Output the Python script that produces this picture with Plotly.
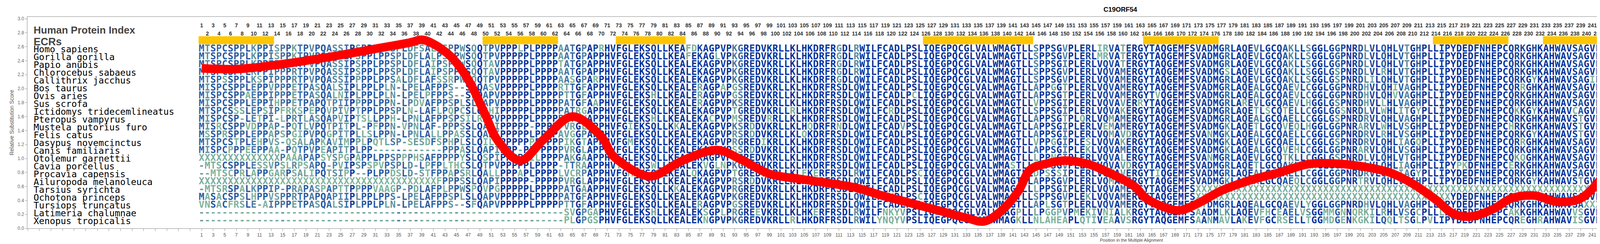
import plotly.graph_objects as go
from collections import Counter

species = ["Homo sapiens", "Gorilla gorilla", "Papio anubis", "Chlorocebus sabaeus",
           "Callithrix jacchus", "Bos taurus", "Ovis aries", "Sus scrofa",
           "Ictidomys tridecemlineatus", "Pteropus vampyrus", "Mustela putorius furo",
           "Felis catus", "Dasypus novemcinctus", "Canis familiaris", "Otolemur garnettii",
           "Cavia porcellus", "Procavia capensis", "Ailuropoda melanoleuca", "Tarsius syrichta",
           "Ochotona princeps", "Tursiops truncatus", "Latimeria chalumnae", "Xenopus tropicalis"]

# alignment blocks (positions given in names)
aln_001_039 = [
    "MTSPCSPPLKPPISPPKTPVPQASSIPSPPLPPSPLDFS",
    "MTSPCSPPLKPPISPPKTPVPQASSIPSPPLPPSPLDFL",
    "MTSPCSPPLKPPIPPPRTPVPQASSIPSPPLPPSPLDFL",
    "MTSPCSPPLKPPIPPPRTPVPQASSIPSPPLPPSPLDFL",
    "MTSPSSPPLKSPIPPPRTPVPQASSIPPPPLPPSALDFL",
    "MISPCSPPLEPPVPPPETPASQALSIPLPPLPLN-LPEL",
    "MISPCSPPAEPPIPPPETPASQALNIPLPPLPLN-LPEL",
    "MISPCSPPLEPPIHPPETPAPQTPIIPPPPLPPN-LPDV",
    "MTSPCSSSLEPSIPFRKSPEPQVPIVPTPPLPPSPLN-L",
    "MISPCSP-LETPI-LPRTLASQAPVIPTSLLPPH-LPNL",
    "MISRCSPPVDPPAP-PQTLVPQTPITPL-PFPPN-VPNL",
    "MSSPRSPPLEPPAPSPGIPVPQGPITPLLSLPPN-LPNL",
    "MTSPCSTPLEHPVS-QSALAPKAVIMPPLPQTLSP-SES",
    "MISPCPPPEEPPAA-PQTPVPEAPITPLPP---------",
    "XXXXXXXXXXXXXXPAAAPAPSYSPGPAPPLPPSPPPHS",
    "-MTSCSPPLESSVPSLRPSAPQ-PVIPSPSPVPSPLD-L",
    "--MTSCPRLAPPGARPSALIPQTSIPP--PLPPDSLD-S",
    "XXXXXXXXXXXXXXXXXXXXXXXXXXXXXXXXXXXXXXX",
    "-MTSRSPALKPPIP-PRAPASPAPTTPPPPVAAGP-PDL",
    "MASACSPSLHPPVSPPRTPAPQAPIIPLPPLPPS-LPEL",
    "VNSACFRSLE-AIPPPETPASQALSIPLPPLPLN-LPEL",
    "---------------------------------------",
    "---------------------------------------",
]
aln_040_078 = [
    "ALPSPPWSQQTPVPPPLPLPPPPAATGPAPRHVFGLEKS",
    "ALPSPPWSQQTPVPPPPPLPPPPAATGPAPPHVFGLEKS",
    "AIPSPPWSQQTAVPPPPPLPPPPTATGPAPPHVFGLEKS",
    "AIPSPPWSQQTAVPPPPPLPPPPAATGPAPPHVFGLEKS",
    "AFSSRPWSQQTPVPPPPPLPPPPAASGPARPHVFGLEKS",
    "AFPPS--SFQASVPPPPPLPPPPRTTGFAPPHVFGLEKS",
    "PFPPS--SFQAPVPPPPPLPPPPPTTGFAPPHVFGLEKS",
    "AFPPSPLSLQAPVPPPPPLPPPPPATGFAAPHVFGLEKS",
    "AFLPQPCSLQSHIPPPPPLPPPPPATRGAPPHVFGLEKS",
    "AFPPSPSILRAPVPPPPPLPPPPPATGVAPPHVFGLEKS",
    "AF-PPPSSLQAPIPPPPP-PPPPPVRGLAPPHVFGIEKS",
    "ALLPPASSLQAPIPPPPPLPPPPAVGGPAPPHVFGLEKS",
    "DFSPHPLSLQILIPPPPPPPPPPPIKGTAPPHVFGMEKS",
    "---PPPASLQAPIPPP-PLPPPPPVRGLAPPHVFGLEKS",
    "AFPPPPYSLQSPIPPPPPILPPPPAKGAAPPHVFGLEKS",
    "PFPLTHCSLQTPVPPPPPLPPPP-TTRAAPPHVYGLEKS",
    "TFPPAPSRLQALLPPPAPLPPPPLVCRPAPPHVFGMAKS",
    "XXFPPPSSLQAPIPPPPP-PPPPPVRGLAPPHVFGLEKS",
    "AFPLPPWSPQVPGPPPPPLPPPPPATGAAPPHVFGLEKS",
    "AFPPSPLSLQAPVPPPPPLPPPPPATGFAPPHVFGLEKS",
    "AFPPS--SFQAPVPPPPPLPPPPPTTGFAPPHVFGLEKS",
    "------------------------SVGPGAPHVFGLEKS",
    "------------------------PLGPGSPHVFGLEKS",
]
aln_079_117 = [
    "QLLKEAFDKAGPVPKGREDVKRLLKLHKDRFRGDLRWIL",
    "QLLKEAFEKAGLVPKGREDVKRLLKLHKDRFRGDLRWIL",
    "QLLKEALEKAGPVPKGREDVKRLLKLHKDRFRGDLRWIL",
    "QLLKEALEKAGPVPKGREDVKRLLKLHKDRFRGDLRWIL",
    "QLLKEALEKAGPVPKGREDVKRLLKLHKDRFRGDLQWIL",
    "QLLKEALERAGPAPGSREDVKRLLKLHKDRFRSDLQWIL",
    "HLLKEALERAGPVPGSREDVKRLLKLHKDRFRSDLQWIL",
    "QLLKEALERAGPVPKSREDVKRLLKLHKDRFRSDLQWIL",
    "QLLKEALEKAGPVPTGREDVKRLLRLHKDRFRSDLQWIL",
    "HLLKEALEKACPVPMSREDVRRLLKLHKDRFRSDLQWIL",
    "QLLKKALEKAGPVPKSRDDVKRLLKLHQDRFRNDLQWIL",
    "QLLKEALEKAGPVPRSRDDVKRLLKLQKDRFRSDLQWIL",
    "QLLKEALEKAGPVPRGREDIKRLLKLHKDRFRSDLQWIL",
    "QLLKEALEKAGPVPSSRDDVKRLLKLHKDRFRSDLQWIL",
    "QLLKEALEKAGPVPRGREDVKRLLKLHKDRFRSDLQWIL",
    "WLLKEALEKVGLNPKGREDVKRLLKLHKDRFRSDLQWIL",
    "QLLKEALQKAGPVPTGREDVRRLLKLFKERFRSDLRWIL",
    "QLLKEALEKAGPVPRSRDDVKRLLKLHKDRFRSDLQWIL",
    "QLLKKALEKAGPVPRGREDVKRLLKLHKDRFRSDLQWIL",
    "QLLKEALEKAGPVPKGREDVKRLLKLHKDRFRSDLQWIL",
    "QLLKEALERAGPVPGSREDVKRLLKLHKDRFRSDLQWIL",
    "HLLKEALEKSGPLPRGREEVKRLLKLHKERFRSDLRWIL",
    "QLLKEALEKNGPVPKGREDVKRLLRLHKDRFRSDLRWIL",
]
aln_118 = ["F"] * 22 + ["Y"]
aln_119_157 = [
    "CADLPSLIQEGPQCGLVALWMAGTLLSPPSGVPLERLIR",
    "CADLPSLIQEGPQCGLVALWMAGTLLSPPSGVPLERLMR",
    "CADLPSLIQEGPQCGLVALWMAGTLLSPPSGIPLERLVQ",
    "CADLPSLIQEGPQCGLVALWMAGTLLSPPSGVPLERLVQ",
    "CADLPSLIQEGPQCGLVALWMAGTLLSPPSGVPLERLVQ",
    "CADLPSLIQEGPQCGLVALWMAGTLLAPPGGTPLERLVQ",
    "CADLPCLIQEGPQCGLVALWMAGTLLAPPSGTPLERLVQ",
    "CADLPSLIQEGPQCGLVALWMAGTLLVPPSGIPLERLVQ",
    "CRDLPSLIQEGPQCGLVALWMAGTLLSPPSGIPLERLVQ",
    "CADLPSLIQEGPQCGLVALWMAGTLLAPPSGTPLQRLVQ",
    "CADVPSLIQEGPQCGLVALWMAGTLLAPPSGIPLERLVE",
    "CADLPSLIQEGPQCGLVALWMAGTLLAPPSGIPLERLVQ",
    "CADLPSLIQEGPQCGLVALWMAGTLLVPPGGIPLESLVQ",
    "CADLPSLIQEGPQCGLVALWMAGTLLAPPSGIPLEKLVQ",
    "CADLPSLIQEGPQCGLVALWMAGTLLLPPNGIPLERLVQ",
    "CADLPSLIQEGPQCGLVALWMASTLLSPPSGVPLERLVQ",
    "CADLPSCIQEGPQCGLVALWMAGTLLDPSSSIPLERLVQ",
    "CADLPSLIQEGPQCGLVALWMAGTLLAPPSGVPLERLVQ",
    "CADLPSLIQEGPQCGLVALWMAGTLLLPPSGIPLERLVQ",
    "CVDLPSCIQEGPQCGLVALWMAGTLLSPPSGVPLEKLVQ",
    "CADLPSLIQEGPQCGLVALWMAGTLLAPLSGTPLERLVQ",
    "NKYVPSLIQDGPQCGLVALWMAGPLLLPGGPVPMEKIVN",
    "NQYVPSLIQEGPQCGLVALWMAGKLLNLAHEAPLQTIVE",
]
aln_158_196 = [
    "VATERGYTAQGEMFSVADMGRLAQEVLGCQAKLLSGGLG",
    "VATERGYTAQGEMFSVADMGRLAQEVLGCQAKLLSGGLG",
    "VATERGYTAQGEMFSVADMGRLAQEVLGCQAKLLSGGLG",
    "VAMERGYTAQGEMFSVADMGSLAQEVLGCQAKLLSGGLG",
    "VAMERGYTAQGEMFSVADMGRLAQEVLGCQAKLLSGGLG",
    "VAMERGYTAQGEMFSVADMGRLAQEALGCQAEVLCGGLG",
    "VAMERGYTVQGEMFSVADMGRLAQEALGCQAEVLCGGLG",
    "VAVERRYTAQGEMFSVADMGRLAREVLGCQAEVLHGGLG",
    "VAKERGYTAQGEMFSVADMGRLAQETLSCQTELLCGGLG",
    "MAMERGYTAQGEMFSVADMGRLAQEALGCQAELLCGGLG",
    "MAMERGYTAQGEMFSVADMGKLAQETLGCQVEQLHGGLG",
    "MAVDRGYTAQGEMFSVANMGKLAQEALGCQAELLCGGLG",
    "VAKERGYTAQGEMFSVADMGKLAQEVLGCQAELLCGGLG",
    "VAMERGYTAQGEMFSVADMGKLAQEALGCQVEHLCGGLG",
    "VALERGYTAQGEMFSVANMGRLAQEVLGCQTKLLCGGLG",
    "VAVDRGYTAQGEMFSVADMGRLAQETLGCQAKLLRNGLG",
    "VAVERGYTIQGEMFSVADMGRLAQEALGCQAELLCGGLG",
    "MAMERGYTAQGEMFSVADMGKLAREALGCQAEQLCGGLG",
    "VAMERGYTAQGEMFSXXXXXXXXXXXXXXXXXXXXXXXX",
    "VAMERGYTAQGEMFSXXXXXXXXXXXXXXXXXXXXXXXX",
    "VAMERGYTAQGEMFSVTDMGRLAQEALGCQAEVLYGGLG",
    "IALKRGYTAQGEMFSAADMLKLAQEVFHCEAELVSGGMM",
    "AAVSRGYTAQGEMFSAANMAVLAKEVFGCRSELLTGGMD",
]
aln_197_235 = [
    "GPNRDLVLQHLVTGHPLLIPYDEDFNHEPCQRKGHKAHW",
    "GPNRDLVLQHLVTGHPLLIPYDEDFNHEPCQRKGHKAHW",
    "GPNRDLVLQHLVTGHPLLIPYDEDFNHEPCQRKGHKAHW",
    "SPNRDLVLRHLVTGHPLLIPYDEDFNHEPCQRKGHKAHW",
    "SPNRDLILQHLVTGHPLLIPYDEDFNHEPCQRKGYKAHW",
    "GPNRDHVLQHIVAGHPLLIPYDEDFNHEPCQRRGHKAHW",
    "GPNRDHVLQHVVAGHPLLIPYDEDFNHEPCQRKGHKAHW",
    "SPNRDHVLLHLVAGHPLLIPYDEDFNHEPCQRKGHKAHW",
    "GSNRDLVLWHLITGYPLLIPYDEDFNHEPCQKKGYKAHW",
    "SPNRDRVLQHLVAGHPLLIPYDEDFNHEPCQRKGHKAHW",
    "GPNRARVLWHLVSGHPLLIPYDEDFNHEPCHRKGHKAHW",
    "GPNRDRVLRHLVSGHPLLIPYDEDFNHEPCQRKGYKAHW",
    "SPNRDRVLQHLIAGQPLLIPYDEDFNHEPCQRRGHKAHW",
    "GPNRARVLQHLVSGHPLLIPYDEDFNHEPCQRKGHKAHW",
    "SPNRDLVLQHLVTGHPLLIPYDEDFNHEPCQKQGHKAHW",
    "GPNRDLVLQHLIAGHPLLIPYPKDFNHEPCERKGHKAHW",
    "GPNRDRVLQHLIAGYPLLIPYDEDFNHEPCQRKGHKAHW",
    "GPNRTRVLQHLVSGHPLLIPYDEDFNHEPCQRKGYKAHW",
    "XXXXXXXXXXXXXXXXXXXXXXXXXXXXXXXXXXXXXXX",
    "XXXXXXXXXXXXXXXXXXXXYDEDFNHEPCQSKGHKAHW",
    "GPNRDHVLQHLVAGHPLLIPYDEDFNHEPCQRKGHKAHW",
    "GNNQRKILRHLVSGCPLLLPYDEDFNHEPCAKKGHKAHW",
    "GENKGKILQQLTSGLPVLIPYDEDFNHEPCQREGHRAHW",
]
aln_236_274 = [
    "AVSAGVLLGVRAVPSLGYTEDPELPGLFHPVLGTPCQPP",
    "AVSAGVLLGVRAVPSLGYTEDPELPGLFHPVLGTPCQPP",
    "AVSAGVLLGVRAVPTLGYTEDPELPGLFHPVLGTPCQPP",
    "AVSAGVLLGVRAVPSLGYTEDPELPGLFHPVLGTPCQPP",
    "AVSAGILLGVPAVPSLGYTEDPELPGLFHPVLGMPFQPP",
    "AVSAGVLLGVQHVPSLGYSEDPELPGLFHPVPGTPHQPP",
    "AVSAGVLLGVQHVPSLGYSEDPELPGLFHPVPGTPQQPP",
    "AVSAGVLLGVQAVPDVGYAEDPELPGLFHPAASSPHQPP",
    "AVCAGVLLGVQSVPSPGYTEDPELPGLFHPEPGVPCRPP",
    "AVSTGVLLGVQGVPSPGYAEDPELSGLFHPMPGMLCQPP",
    "AVSTGVLLGVRAVPRLGYSEDPELPGLFHPVPTMPHQPP",
    "AVSTGVLLGTQAVPGLGYSEDPELPGLFHPVPSTARQLP",
    "AVSAGVLLGVQGVPGCGYAEDPELAGLFHPLPGMLCQLP",
    "AVSAGVLLGVQAVPSPGYAEDPELPGLFHPAPSTLHQPP",
    "AVSAGVLLGVQHIPSHGYTEDPELPGLFYPVPGTPCQPL",
    "AVSAGVLLGVQAVPHLGYAEDPELPGLFHPVPSTPCQPP",
    "AVSAGVLLGVPDVPGCGYAEDPELAGLFHPVPSAAWQPP",
    "AVSTGVLLGVQAVPSLGYSEDPELPGLYHPVPSTPRQPP",
    "XXXXXVLLGVPAVPSLGYAEDPELPGLFHPVLSKPCQSP",
    "AVSAGVLLGVSHTPGHGYTEDPELPGLFHPVSGMTCQLP",
    "AVSAXXXXXXXXXXXXXXXXXXXXXXXXXXXXXXXXXXX",
    "AVVSGVLLGLKCGSLAGYQEDPELSGLFYPPREAHWH--",
    "AVISGVLFGVRCGS---FSPDPDIPGLCYPSSDSP----",
]
aln_275_313 = [
    "SLPEEGSPGAVYLLSKQGKSWHYQLWDYDQVRESNLQLT",
    "SLPEEGSPGAVYLLSKQGKSWHYQLWDYDQVRESNLQLT",
    "SLPEEGSPGAVYLLSKQGKSWHYQLWDYDQVRDSNLQLT",
    "SLPEEGSPGAVYLLSKQGKSWHYQLWDYDQVRDSNLQLT",
    "SLPEEGSPGAVYLLSKQGKSWHYQLWDYDQIRESNLQLT",
    "SLPEEGSPGAVYLLAKQGKSWHHQLWDYDQVRDSNLQLT",
    "SLPEEGSPGAVYLLAKQGKSWHHQLWDYDQVRDSNLQLT",
    "ALPEEGSTGTIYLLSKQGKSWHYQLWDYDQVRDSNLQLT",
    "SMPEEGFPGAVFLLSKQGKSWHYQLWDYDQVRDSNLQLT",
    "SLPEEDLPGAVYLLCKQGKSWHCQLWDYDQVRDSNMQLT",
    "ALPEEGSAGAVYLLSKQGKSWHYQLWDYDQVRDSNLQLT",
    "SLPEEGSPGAVYLLSKQGKSWHYQLWDYDQVRDSNLQLT",
    "CLPEEGSPGAVYLLSKQGKSWHYQLWDYDQVRESNLQLT",
    "SLPEDGSSGAVYLLSKQGKSWHYQLWDYDQVRDSNLQLT",
    "SLPEEGSEGTVYLLSKQGKSWHYQLWDYNQVRDSNLQLT",
    "LLPEESSSGAIFLLCKQGKSWHYQLWDYDQVRDSNLQLT",
    "PLPEEGCRGAVHLLSKQGKSWHYQLWDYDQVRESNLQLT",
    "ALPEEGSPGAVYLLSKQGKSWHYQLWDYNQVRDSNLQLT",
    "PLPEEGSLGAVYLLSKQGKSWHYKLWDYNQVRDSNLQLT",
    "VLPEV-APGATYLLCKQGKSWNYQLWDYDQVQESNLQLT",
    "XXXXXXXXXXXXXXXXXXXXXXXXXXXXXXXXXXXXXXX",
    "-CPPEDGVVEIYLLAKQGKSLKYQLWEYQRVHESNMQLT",
    "-SLEDLNIQEIYLVAKQGKSLRYQLWEYDCISRSNGQLI",
]
aln_314_351 = [
    "DFSPSRATDGRVYVVPVGGVRAGLCGQALLLTPQDCSH",
    "DFSPSRATDGRVYVVPVGGVRAGLCGQALLLTPQDCSH",
    "DFSPSRATDGRVYVVPVGGVRAGLCGQALLLTPQDCSH",
    "DFSPSRATDGRVYVVPVGGVRAGLCGQALLLTPQDYSH",
    "DFSPSRATDGRMYIVPAGGVRAGLCGQALLLTPQGCSL",
    "DFSPSRAADGREYVVPAGGVRAGLCGQALLLRPQDSSH",
    "DFSPSRAADGREYVVPAGGVRAGLCGQALLLRPQDSSH",
    "DFSPLRATDGREYVVPAGGVRAGLCGQALLLRPQDSSH",
    "DFSPSRATDGLVYVVPTGGVRAGLCGQALLLRPRESSN",
    "DFSPSRAADGREYVVPAGGVRAGLCGQALLLRPQDPSH",
    "DFSPSRAADGRAYVVPAGGVRAGLCGQALLLRPRDSGH",
    "DFSPSRAADGRAYVVPAGGVRAGLCGQALLLSPKDSSC",
    "DFSPSRAADGRAYVVPAGGVQAGLCGQALLLRPQDSSH",
    "DFSPSRATDGRAYVVPAGGVQAGLCGQALLLTPQDFSR",
    "DFSPSRATNGQTYVVPAGGVRAGLCGQALLLRPWDSNH",
    "DFSPSRAADGRVYVVPPGGVQAGLCGQALLLRPQE---",
    "DFSPSRAADGRSYVVPAGGLRAGLCGQALLLSLPLASH",
    "DFSPSRATDGRAYVVPAGGVRAGLCGQALLLXXXXXXX",
    "DFSPLRATDGRAYVVPAGGVRAGLCGQALLLRPWDSSH",
    "DFSPLRAADGQTYVVPTGGVQAGLCGQALLLRPGDSSP",
    "XXXXXXXXXXXXXXXXXXXXXXXXXXXXXXXXXXCSPE",
    "DLDPSRAADGTVYVLPQGGVKSGLCGHTVLLKPGTELT",
    "HLDPKRSNDGNVYIVPSGGVKAGLCGQIVLFQPKDV--",
]

ecr_start = [1, 50, 73, 126, 164, 214, 233, 256, 287, 308, 331]
ecr_end = [13, 62, 84, 144, 176, 226, 244, 265, 300, 319, 345]

curve_pos = [1, 7, 13, 19, 25, 31, 37, 39, 41, 44, 47, 50, 52, 56, 60, 65, 70, 72, 77, 79,
             84, 90, 94, 99, 104, 109, 114, 118, 123, 128, 133, 136, 139, 142, 144, 147,
             150, 154, 157, 162, 164, 168, 170, 173, 177, 182, 187, 192, 196, 201, 206,
             210, 214, 217, 220, 224, 227, 231, 235, 239, 243, 245, 248, 250, 253, 255,
             258, 259, 261, 264, 266, 269, 271, 273, 274, 279, 284, 288, 292, 296, 299,
             303, 306, 309, 313, 317, 321, 323, 327, 331, 335, 337, 340, 342, 345, 347,
             350, 351]
curve_score = [2.29, 2.28, 2.33, 2.40, 2.48, 2.57, 2.66, 2.70, 2.64, 2.46, 2.13, 1.62, 1.27,
               0.97, 1.27, 1.60, 1.31, 1.04, 0.77, 0.75, 0.97, 1.12, 0.99, 0.78, 0.71, 0.65,
               0.58, 0.48, 0.37, 0.26, 0.15, 0.10, 0.25, 0.54, 0.84, 0.93, 0.97, 0.92, 0.82,
               0.60, 0.43, 0.28, 0.26, 0.36, 0.54, 0.69, 0.80, 0.92, 0.93, 0.89, 0.80, 0.64,
               0.41, 0.21, 0.17, 0.28, 0.43, 0.47, 0.38, 0.43, 0.77, 1.10, 1.27, 1.31, 1.23,
               0.95, 0.69, 0.65, 0.80, 1.20, 1.60, 1.96, 2.07, 2.00, 1.88, 1.53, 1.14, 0.73,
               0.41, 0.37, 0.47, 0.58, 0.58, 0.47, 0.43, 0.54, 0.69, 0.77, 0.67, 0.50, 0.37,
               0.36, 0.50, 0.99, 1.36, 1.68, 1.99, 2.14]

# ---------------- build ----------------
blocks = [(aln_001_039, 39), (aln_040_078, 39), (aln_079_117, 39), (aln_118, 1),
          (aln_119_157, 39), (aln_158_196, 39), (aln_197_235, 39), (aln_236_274, 39),
          (aln_275_313, 39), (aln_314_351, 38)]


def fit(s, n):
    return (s + "-" * n)[:n]


seqs = ["".join(fit(b[i], n) for b, n in blocks) for i in range(len(species))]
L = len(seqs[0])

PX = 14.834  # px per position
PY = 179.0   # px per score unit


def row_y(k):
    return (577 - 118 - 20 * k) / PY


stops = [(0.0, (135, 188, 155)), (0.2, (105, 155, 160)), (0.45, (70, 120, 165)),
         (0.7, (35, 85, 160)), (0.9, (5, 50, 155)), (1.0, (5, 50, 155))]


def col_for(f):
    for (a, ca), (b, cb) in zip(stops, stops[1:]):
        if f <= b:
            t = (f - a) / (b - a) if b > a else 0
            c = [round(ca[i] + (cb[i] - ca[i]) * t) for i in range(3)]
            return "rgb(%d,%d,%d)" % tuple(c)
    return "rgb(5,50,155)"


xs, ys, ts, cs = [], [], [], []
for j in range(L):
    cnt = Counter(s[j] for s in seqs)
    for k, s in enumerate(seqs):
        ch = s[j]
        xs.append(j + 1)
        ys.append(row_y(k))
        ts.append(ch)
        cs.append(col_for(cnt[ch] / len(seqs)))

fig = go.Figure()

# ECR bars
for a, b in zip(ecr_start, ecr_end):
    fig.add_shape(type="rect", x0=a - 0.5, x1=b + 0.5, y0=(577 - 105) / PY, y1=(577 - 85) / PY,
                  fillcolor="#FFC500", line=dict(color="#FFD850", width=1), layer="below")

fig.add_trace(go.Scatter(x=xs, y=ys, text=ts, mode="text", hoverinfo="skip",
                         textfont=dict(family="DejaVu Sans Mono", size=24, color=cs, weight="bold"),
                         showlegend=False))

fig.add_trace(go.Scatter(x=curve_pos, y=curve_score, mode="lines", hoverinfo="skip",
                         line=dict(color="#FF0000", width=22, shape="spline", smoothing=1.0),
                         showlegend=False))

# top position numbers
odd = list(range(1, L + 1, 2))
even = list(range(2, L + 1, 2))
fig.add_trace(go.Scatter(x=odd, y=[(577 - 58) / PY] * len(odd), text=[str(v) for v in odd],
                         mode="text", hoverinfo="skip", showlegend=False,
                         textfont=dict(family="Liberation Sans", size=14, color="#333333", weight="bold")))
fig.add_trace(go.Scatter(x=even, y=[(577 - 79) / PY] * len(even), text=[str(v) for v in even],
                         mode="text", hoverinfo="skip", showlegend=False,
                         textfont=dict(family="Liberation Sans", size=14, color="#333333", weight="bold")))

x_left = -29.07
name_x = x_left + 14 / PX
for k, sp in enumerate(species):
    fig.add_annotation(x=name_x, y=row_y(k), text=sp, showarrow=False, xanchor="left",
                       yanchor="middle", font=dict(family="DejaVu Sans Mono", size=23, color="black"))
fig.add_annotation(x=name_x, y=(577 - 69) / PY, text="Human Protein Index", showarrow=False,
                   xanchor="left", yanchor="middle",
                   font=dict(family="Liberation Sans", size=26, color="#444444", weight="bold"))
fig.add_annotation(x=name_x, y=(577 - 99) / PY, text="ECRs", showarrow=False,
                   xanchor="left", yanchor="middle",
                   font=dict(family="Liberation Sans", size=27, color="#444444", weight="bold"))

tickv = list(range(-29, L + 1, 2))
fig.update_layout(
    width=5720, height=625,
    margin=dict(l=62, r=5, t=35, b=48),
    paper_bgcolor="white", plot_bgcolor="white",
    title=dict(text="<b>C19ORF54</b>", x=0.5, xanchor="center", y=0.975, yanchor="middle",
               font=dict(family="Liberation Sans", size=17, color="black")),
    xaxis=dict(range=[x_left, 352.0], tickvals=tickv,
               ticktext=[str(v) if v >= 1 else "" for v in tickv],
               ticks="outside", ticklen=6, tickcolor="#999", showgrid=False, zeroline=False,
               showline=True, linecolor="#888", mirror=True,
               tickfont=dict(family="Liberation Sans", size=12, color="#555"),
               title=dict(text="Position in the Multiple Alignment", standoff=2,
                          font=dict(family="Liberation Sans", size=11, color="#444"))),
    yaxis=dict(range=[0, 3.028], tickvals=[i / 10 for i in range(0, 31, 2)],
               tickformat=".1f", ticks="outside", ticklen=5, tickcolor="#999",
               showgrid=False, zeroline=False, showline=True, linecolor="#888", mirror=True,
               tickfont=dict(family="Liberation Sans", size=12, color="#666"),
               title=dict(text="Relative Substitution Score", standoff=6,
                          font=dict(family="Liberation Sans", size=14, color="#555"))),
)

fig.write_html("out.html")
